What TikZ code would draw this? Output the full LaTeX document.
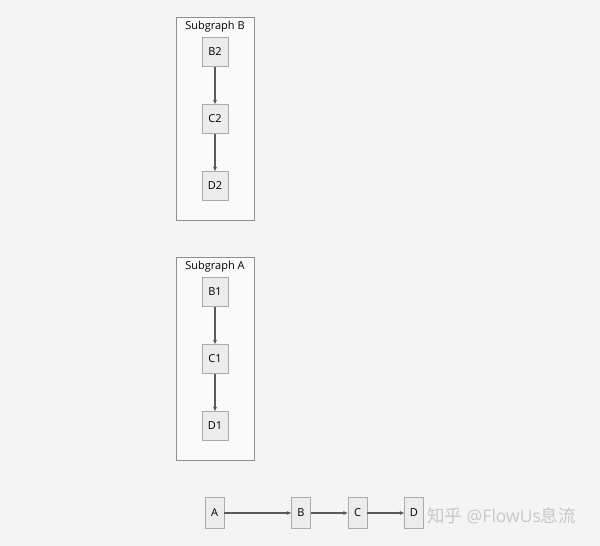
\documentclass[tikz,border=0pt]{standalone}
\usepackage{fontspec}
\setmainfont{Open Sans}
\newfontfamily\cjk{Noto Sans CJK SC}
\usetikzlibrary{arrows.meta}
\definecolor{bgc}{HTML}{F4F4F4}
\definecolor{nodefill}{HTML}{ECECEC}
\definecolor{nodeline}{HTML}{AAAAAA}
\definecolor{boxfill}{HTML}{FAFAFA}
\definecolor{boxline}{HTML}{909090}
\definecolor{edgec}{HTML}{5A5A5A}
\definecolor{wmc}{HTML}{C8C8C8}
\tikzset{
  nd/.style={draw=nodeline, fill=nodefill, line width=0.8pt, minimum width=19pt, minimum height=31pt, inner sep=0pt, font=\fontsize{11}{13}\selectfont},
  ndv/.style={nd, minimum width=26pt, minimum height=29pt},
  sg/.style={draw=boxline, fill=boxfill, line width=0.8pt},
  ttl/.style={font=\fontsize{11}{13}\selectfont},
  edge/.style={draw=edgec, line width=1.1pt, -{Stealth[length=4.5pt,width=4pt]}},
}
\begin{document}
\begin{tikzpicture}[x=1pt,y=-1pt]
\fill[bgc] (0,0) rectangle (600,546);
\useasboundingbox (0,0) rectangle (600,546);
% Subgraph B
\draw[sg] (176,17) rectangle (254,220);
\node[ttl] (tB) at (215,27) {Subgraph B};
\node[ndv] (B2) at (215,52) {B2};
\node[ndv] (C2) at (215,119) {C2};
\node[ndv] (D2) at (215,186) {D2};
\draw[edge] (B2) -- (C2);
\draw[edge] (C2) -- (D2);
% Subgraph A
\draw[sg] (176,257) rectangle (254,460);
\node[ttl] (tA) at (215,267) {Subgraph A};
\node[ndv] (B1) at (215,292) {B1};
\node[ndv] (C1) at (215,359) {C1};
\node[ndv] (D1) at (215,426) {D1};
\draw[edge] (B1) -- (C1);
\draw[edge] (C1) -- (D1);
% bottom row
\node[nd] (A) at (214.5,513) {A};
\node[nd] (B) at (301,513) {B};
\node[nd] (C) at (357.5,513) {C};
\node[nd] (D) at (414,513) {D};
\draw[edge] (A) -- (B);
\draw[edge] (B) -- (C);
\draw[edge] (C) -- (D);
% watermark
\node[text=wmc, anchor=west, inner sep=0pt, font=\fontsize{17.5}{18}\selectfont] (wm) at (427,516) {{\cjk 知乎} @FlowUs{\cjk 息流}};
\end{tikzpicture}
\end{document}
